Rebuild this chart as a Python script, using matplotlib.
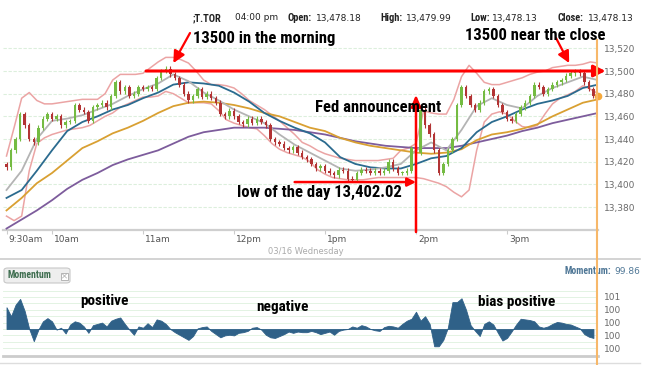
import os
import matplotlib
matplotlib.use('Agg')
import matplotlib.pyplot as plt
from matplotlib import font_manager as fm
from matplotlib.patches import FancyBboxPatch, Rectangle
from matplotlib.lines import Line2D
import numpy as np

# ---------------- data ----------------
candle_minutes = 3          # one candle every 3 minutes from 9:30
first_open = 13418
closes = [13415, 13430, 13440, 13462, 13452, 13440, 13437, 13450, 13458, 13462,
          13458, 13460, 13452, 13455, 13456, 13470, 13466, 13464, 13456, 13468,
          13470, 13472, 13468, 13478, 13490, 13482, 13486, 13478, 13480, 13486,
          13484, 13486, 13484, 13494, 13500, 13502, 13497, 13494, 13488, 13480,
          13474, 13478, 13484, 13477, 13480, 13476, 13472, 13462, 13460, 13465,
          13460, 13455, 13453, 13458, 13454, 13458, 13455, 13452, 13440, 13437,
          13436, 13432, 13430, 13433, 13428, 13424, 13422, 13418, 13414, 13416,
          13412, 13410, 13408, 13413, 13412, 13405, 13404, 13410, 13413, 13412,
          13410, 13412, 13410, 13412, 13420, 13414, 13410, 13410, 13412, 13432,
          13428, 13466, 13452, 13444, 13430, 13410, 13418, 13430, 13440, 13470,
          13486, 13478, 13470, 13466, 13472, 13482, 13484, 13478, 13470, 13464,
          13458, 13456, 13462, 13468, 13472, 13478, 13488, 13486, 13480, 13484,
          13488, 13490, 13492, 13496, 13498, 13500, 13498, 13490, 13484, 13478]
last_close = 13478.13

ma_minutes = 10             # moving averages read every 10 minutes
gray_ma = [13395, 13412, 13440, 13456, 13458, 13461, 13466, 13471, 13478, 13484,
           13489, 13497, 13491, 13481, 13474, 13466, 13460, 13454, 13444, 13435,
           13428, 13421, 13414, 13412, 13413, 13415, 13418, 13430, 13437, 13430,
           13448, 13469, 13476, 13470, 13467, 13478, 13485, 13490, 13495, 13492]
blue_ma = [13388, 13395, 13412, 13430, 13447, 13455, 13460, 13466, 13470, 13476,
           13481, 13488, 13490, 13489, 13487, 13481, 13473, 13463, 13456, 13450,
           13445, 13437, 13424, 13418, 13415, 13414, 13414, 13418, 13423, 13425,
           13432, 13446, 13455, 13460, 13466, 13471, 13474, 13478, 13485, 13488]
orange_ma = [13377, 13388, 13401, 13410, 13421, 13432, 13438, 13445, 13450, 13456,
             13463, 13469, 13472, 13473, 13472, 13470, 13467, 13463, 13460, 13455,
             13450, 13447, 13441, 13437, 13434, 13432, 13430, 13428, 13427, 13428,
             13431, 13439, 13444, 13446, 13449, 13453, 13460, 13466, 13472, 13475]
purple_ma = [13361, 13369, 13377, 13386, 13396, 13404, 13410, 13417, 13422, 13426,
             13430, 13436, 13442, 13446, 13448, 13450, 13450, 13450, 13449, 13448,
             13446, 13444, 13441, 13438, 13436, 13434, 13433, 13432, 13432, 13432,
             13434, 13437, 13440, 13443, 13447, 13450, 13454, 13457, 13460, 13463]

band_minutes = 5            # Bollinger bands read every 5 minutes
upper_band = [13425, 13450, 13476, 13481, 13474, 13471, 13471, 13472, 13473, 13474,
              13475, 13475, 13475, 13480, 13492, 13497, 13497, 13497, 13498, 13503,
              13508, 13512, 13512, 13510, 13507, 13500, 13492, 13488, 13488, 13487,
              13485, 13480, 13474, 13470, 13466, 13461, 13456, 13450, 13444, 13437,
              13434, 13430, 13427, 13425, 13423, 13422, 13421, 13421, 13421, 13421,
              13422, 13423, 13430, 13432, 13436, 13465, 13463, 13462, 13462, 13475,
              13495, 13505, 13498, 13490, 13488, 13488, 13490, 13492, 13494, 13497,
              13499, 13500, 13503, 13504, 13505, 13505, 13506, 13508, 13507]
lower_band = [13372, 13368, 13372, 13412, 13436, 13441, 13444, 13446, 13448, 13449,
              13450, 13452, 13456, 13460, 13463, 13468, 13471, 13474, 13477, 13477,
              13478, 13482, 13480, 13476, 13472, 13472, 13472, 13471, 13465, 13457,
              13454, 13452, 13450, 13449, 13443, 13436, 13431, 13428, 13426, 13424,
              13420, 13413, 13409, 13406, 13405, 13404, 13404, 13404, 13405, 13406,
              13406, 13406, 13406, 13406, 13406, 13405, 13403, 13401, 13398, 13393,
              13389, 13395, 13430, 13455, 13462, 13464, 13462, 13456, 13451, 13450,
              13452, 13462, 13471, 13476, 13479, 13482, 13487, 13484, 13480]

momentum = [100.34, 100.20, 100.38, 100.47, 100.28, 100.00, 99.81, 99.99, 100.12, 100.17,
            100.12, 99.99, 100.02, 99.93, 100.07, 100.12, 100.10, 100.04, 99.94, 100.06,
            100.08, 100.10, 100.04, 100.13, 100.16, 100.18, 100.08, 99.99, 99.91, 100.04,
            100.02, 100.09, 100.03, 100.15, 100.13, 100.08, 100.00, 99.95, 99.91, 99.87,
            99.83, 99.89, 100.01, 100.03, 100.04, 99.97, 99.92, 99.87, 99.90, 99.91,
            99.90, 99.94, 99.95, 99.97, 100.02, 100.03, 99.99, 99.91, 99.87, 99.86,
            99.89, 99.92, 99.96, 99.94, 99.96, 99.95, 99.95, 99.97, 99.95, 99.92,
            99.94, 99.96, 99.91, 99.97, 99.99, 100.00, 100.04, 100.02, 100.06, 100.04,
            100.00, 99.98, 99.97, 100.03, 100.05, 100.04, 100.02, 100.08, 100.13, 100.16,
            100.27, 100.13, 100.20, 100.08, 99.73, 99.73, 99.83, 100.02, 100.42, 100.42,
            100.48, 100.30, 100.06, 99.97, 99.89, 100.08, 100.12, 100.07, 99.94, 99.82,
            99.86, 99.96, 100.07, 100.16, 100.15, 100.14, 100.12, 100.04, 100.02, 100.04,
            100.08, 100.11, 100.10, 100.08, 100.07, 100.04, 100.01, 99.92, 99.88, 99.86]
momentum_last = 99.86

price_ticks = [13380, 13400, 13420, 13440, 13460, 13480, 13500, 13520]
time_tick_minutes = [0, 30, 90, 150, 210, 270, 330]
time_tick_labels = ['9:30am', '10am', '11am', '12pm', '1pm', '2pm', '3pm']
mom_ticks = [100.5, 100.3, 100.1, 99.9, 99.7]
mom_tick_labels = ['101', '100', '100', '100', '100']

fed_minute = 270
high_level = 13500
morning_peak = (110, 13507)
close_peak = (371, 13507)
fed_arrow_top = 13479
day_low = 13402.02
day_low_from = 190

header = [(';T.TOR', True), ('04:00 pm', False), ('Open:', True), ('13,478.18', False),
          ('High:', True), ('13,479.99', False), ('Low:', True), ('13,478.13', False),
          ('Close:', True), ('13,478.13', False)]

# ---------------- fonts ----------------
def pick_condensed_bold():
    prefs = ['RobotoCondensed', 'LiberationSansNarrow', 'DejaVuSansCondensed',
             'OpenSans_Condensed', 'OpenSansCondensed']
    files = [f.fname for f in fm.fontManager.ttflist]
    for p in prefs:
        for f in files:
            b = os.path.basename(f)
            if b.startswith(p) and 'Bold' in b and 'Italic' not in b and 'Oblique' not in b \
                    and 'Extra' not in b and 'Semi' not in b:
                return fm.FontProperties(fname=f)
    return fm.FontProperties(family='DejaVu Sans', weight='bold')

cond = pick_condensed_bold()

# ---------------- layout helpers ----------------
W, H = 650, 365
fig = plt.figure(figsize=(W / 100, H / 100), dpi=100)
fig.patch.set_facecolor('white')

def fxp(px):
    return px / W

def fyp(py):
    return 1 - py / H

PX_PER_MIN = 91 / 60.0
X0 = 6.5
PX_PER_PRICE = 22.67 / 20.0
def price_at(py):
    return 13500 - (py - 71) / PX_PER_PRICE

t_left = (3 - X0) / PX_PER_MIN
t_right = (598 - X0) / PX_PER_MIN

# ---------------- main price axes ----------------
ax = fig.add_axes([fxp(3), fyp(230), fxp(598) - fxp(3), (230 - 45) / H])
ax.set_xlim(t_left, t_right)
ax.set_ylim(price_at(230), price_at(45))
for s in ['top', 'left', 'right']:
    ax.spines[s].set_visible(False)
ax.spines['bottom'].set_color('#cfcfcf')
ax.spines['bottom'].set_linewidth(1.6)

for p in price_ticks:
    ax.axhline(p, color='#dcefdc', lw=0.8, ls=(0, (3, 1.5)), zorder=0)

band_t = np.arange(len(upper_band)) * band_minutes
ma_t = np.arange(len(gray_ma)) * ma_minutes
ax.plot(band_t, upper_band, color='#eba4a4', lw=1.1, zorder=2)
ax.plot(band_t, lower_band, color='#eba4a4', lw=1.1, zorder=2)
ax.plot(ma_t, purple_ma, color='#7d5c9c', lw=1.3, zorder=3)
ax.plot(ma_t, orange_ma, color='#d9a032', lw=1.3, zorder=3)
ax.plot(ma_t, blue_ma, color='#2b6b8f', lw=1.3, zorder=3)
ax.plot(ma_t, gray_ma, color='#b4b4b4', lw=1.3, zorder=3)

t_c = np.arange(len(closes)) * candle_minutes
opens = np.array([first_open] + closes[:-1], dtype=float)
cl = np.array(closes, dtype=float)
up = cl >= opens
cols = np.where(up, '#74bb42', '#b23434')
lo = np.minimum(opens, cl)
hi = np.maximum(opens, cl)
wick = 2.0
ax.vlines(t_c, lo - wick, hi + wick, colors=cols, lw=0.8, zorder=4)
ax.bar(t_c, np.maximum(hi - lo, 0.9), bottom=lo, width=1.6, color=cols, lw=0, zorder=4)

ax.set_yticks(price_ticks)
ax.set_yticklabels([f'{p:,}' for p in price_ticks])
ax.yaxis.tick_right()
ax.tick_params(axis='y', length=0, pad=4, labelsize=6.5, labelcolor='#6a6a6a')
ax.set_xticks(time_tick_minutes)
ax.set_xticklabels([])
ax.tick_params(axis='x', length=3, width=0.8, color='#cccccc')
for t, lab in zip(time_tick_minutes, time_tick_labels):
    ax.text(t + 2 / PX_PER_MIN, -10 / 185, lab, transform=ax.get_xaxis_transform(),
            ha='left', va='center', fontsize=6.5, color='#555555')
fig.text(fxp(268), fyp(251), '03/16 Wednesday', fontsize=6, color='#aaaaaa',
         ha='left', va='center')

# red annotations
RED = '#ff0000'
ax.annotate('', xy=(t_right + 5, high_level), xytext=(92, high_level),
            arrowprops=dict(arrowstyle='-|>,head_length=0.7,head_width=0.35', color=RED, lw=2.2,
                            shrinkA=0, shrinkB=0), annotation_clip=False, zorder=9)
ax.annotate('', xy=(fed_minute, fed_arrow_top), xytext=(fed_minute, price_at(232)),
            arrowprops=dict(arrowstyle='-|>,head_length=0.7,head_width=0.3', color=RED, lw=1.8,
                            shrinkA=0, shrinkB=0), annotation_clip=False, zorder=9)
ax.annotate('', xy=(fed_minute, day_low), xytext=(day_low_from, day_low),
            arrowprops=dict(arrowstyle='-|>,head_length=0.5,head_width=0.25', color=RED, lw=1.8,
                            shrinkA=0, shrinkB=0), annotation_clip=False, zorder=9)
ax.annotate('', xy=morning_peak, xytext=(190, H - 33), textcoords='figure pixels',
            arrowprops=dict(arrowstyle='-|>,head_length=0.7,head_width=0.35', color=RED, lw=1.6,
                            shrinkA=0, shrinkB=0), annotation_clip=False, zorder=9)
ax.annotate('', xy=close_peak, xytext=(556, H - 38), textcoords='figure pixels',
            arrowprops=dict(arrowstyle='-|>,head_length=0.7,head_width=0.35', color=RED, lw=1.6,
                            shrinkA=0, shrinkB=0), annotation_clip=False, zorder=9)

ax.plot([t_right], [last_close], 'o', color='#f6a93b', ms=4.5, clip_on=False, zorder=10)

# ---------------- momentum axes ----------------
ax2 = fig.add_axes([fxp(3), fyp(355), fxp(598) - fxp(3), (355 - 288) / H])
ax2.set_xlim(t_left, t_right)
ax2.set_ylim(100 - (355 - 329) / 64.0, 100 + (329 - 288) / 64.0)
for s in ax2.spines.values():
    s.set_visible(False)
for g in np.arange(99.6, 100.65, 0.1):
    ax2.axhline(g, color='#e3f3e3', lw=0.7, zorder=0)
mt = np.arange(len(momentum)) * candle_minutes
ax2.fill_between(mt, 100, momentum, color='#2f6188', lw=0.6, edgecolor='#2f6188', zorder=2)
ax2.set_xticks([])
ax2.set_yticks(mom_ticks)
ax2.set_yticklabels(mom_tick_labels)
ax2.yaxis.tick_right()
ax2.tick_params(axis='y', length=0, pad=4, labelsize=6.5, labelcolor='#6a6a6a')

# ---------------- figure-level decorations ----------------
def hline(y, x0, x1, color, lw):
    fig.add_artist(Line2D([fxp(x0), fxp(x1)], [fyp(y), fyp(y)], color=color, lw=lw))

hline(259, 0, 640, '#cccccc', 1.2)
hline(355.5, 3, 598, '#cccccc', 2.0)
hline(363, 0, 640, '#dddddd', 1.0)

fig.add_artist(Line2D([fxp(597), fxp(597)], [fyp(40), fyp(365)], color='#f7b86a', lw=1.5, zorder=20))

# Momentum button
fig.add_artist(FancyBboxPatch((fxp(4), fyp(283)), fxp(70) - fxp(4), (283 - 268) / H,
                              boxstyle='round,pad=0,rounding_size=0.006',
                              facecolor='#eeeeee', edgecolor='#c8c8c8', lw=0.8))
fig.text(fxp(8), fyp(275.5), 'Momentum', fontproperties=cond, fontsize=7, color='#3e6d4f',
         ha='left', va='center')
fig.add_artist(Rectangle((fxp(61), fyp(279.5)), fxp(7), 7 / H, facecolor='white',
                         edgecolor='#aaaaaa', lw=0.6))
fig.add_artist(Line2D([fxp(62.5), fxp(66.5)], [fyp(278), fyp(274)], color='#aaaaaa', lw=0.5))
fig.add_artist(Line2D([fxp(62.5), fxp(66.5)], [fyp(274), fyp(278)], color='#aaaaaa', lw=0.5))

fig.text(fxp(611), fyp(271), 'Momentum:', fontproperties=cond, fontsize=7, color='#4f7796',
         ha='right', va='center')
fig.text(fxp(614), fyp(271), f'{momentum_last:.2f}', fontsize=6.5, color='#4f7796',
         ha='left', va='center')

# header
header_x = [193, 235, 287, 316, 380, 406, 470, 492, 558, 588]
for (txt, bold), x in zip(header, header_x):
    if bold:
        fig.text(fxp(x), fyp(18), txt, fontproperties=cond, fontsize=7.5,
                 color='#222222', ha='left', va='center')
    else:
        fig.text(fxp(x), fyp(18), txt, fontsize=6.5, color='#222222', ha='left', va='center')

# big annotation texts
def note(x, y, s, size=12):
    fig.text(fxp(x), fyp(y), s, fontproperties=cond, fontsize=size, color='black',
             ha='left', va='center', zorder=30)

note(193, 39, '13500 in the morning')
note(465, 36, '13500 near the close')
note(315, 108, 'Fed announcement')
note(237, 192, 'low of the day 13,402.02')
note(80, 301, 'positive', 11)
note(256, 307, 'negative', 11)
note(478, 302, 'bias positive', 11)

fig.savefig('out.png', dpi=100, facecolor='white')
